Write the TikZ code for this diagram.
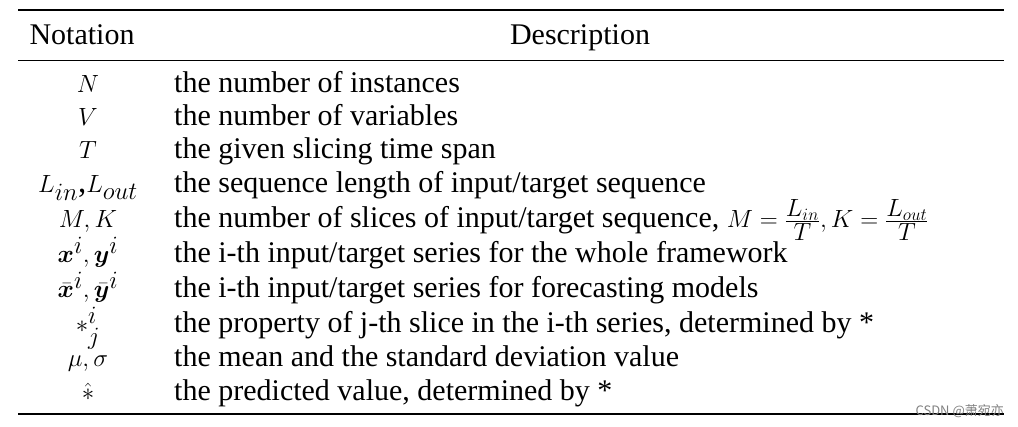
\documentclass[tikz,border=0pt]{standalone}
\usepackage{amsmath,bm}
\usepackage{fontspec}
\setmainfont{Liberation Serif}
\newfontfamily\cjk{Noto Sans CJK SC}
\begin{document}
\begin{tikzpicture}[x=1pt,y=-1pt,
  txt/.style={inner sep=0pt,anchor=base west,font=\fontsize{30}{34}\selectfont},
  nt/.style={inner sep=0pt,anchor=base,font=\fontsize{33}{36}\selectfont},
  hd/.style={inner sep=0pt,anchor=base,font=\fontsize{30}{34}\selectfont}]
\useasboundingbox (0,0) rectangle (1018,427);
\draw[line width=1.6pt] (18,10) -- (1004,10);
\draw[line width=0.9pt] (18,60) -- (1004,60);
\draw[line width=1.6pt] (18,414) -- (1004,414);
\node[hd] (h1) at (82,45) {Notation};
\node[hd] (h2) at (580,45) {Description};
\def\r#1#2#3#4{\node[nt] (n#1) at (88,#2) {#3}; \node[txt] (d#1) at (174,#2) {#4};}
\r{1}{93}{$N$}{the number of instances}
\r{2}{126}{$V$}{the number of variables}
\r{3}{159}{$T$}{the given slicing time span}
\r{4}{193}{$L_{in}$,$L_{out}$}{the sequence length of input/target sequence}
\r{5}{228}{$M,K$}{the number of slices of input/target sequence, {\fontsize{33}{36}\selectfont$M=\frac{L_{in}}{T},K=\frac{L_{out}}{T}$}}
\r{6}{263}{$\bm{x}^i,\bm{y}^i$}{the i-th input/target series for the whole framework}
\r{7}{298}{$\bar{\bm{x}}^i,\bar{\bm{y}}^i$}{the i-th input/target series for forecasting models}
\r{8}{333}{$*_j^i$}{the property of j-th slice in the i-th series, determined by *}
\r{9}{367}{$\mu,\sigma$}{the mean and the standard deviation value}
\r{10}{401}{$\hat{*}$}{the predicted value, determined by *}
\node[inner sep=0pt,anchor=base east,text=gray,font=\fontsize{13}{15}\cjk] (wm) at (1004,416) {CSDN @萧宛亦};
\end{tikzpicture}
\end{document}
